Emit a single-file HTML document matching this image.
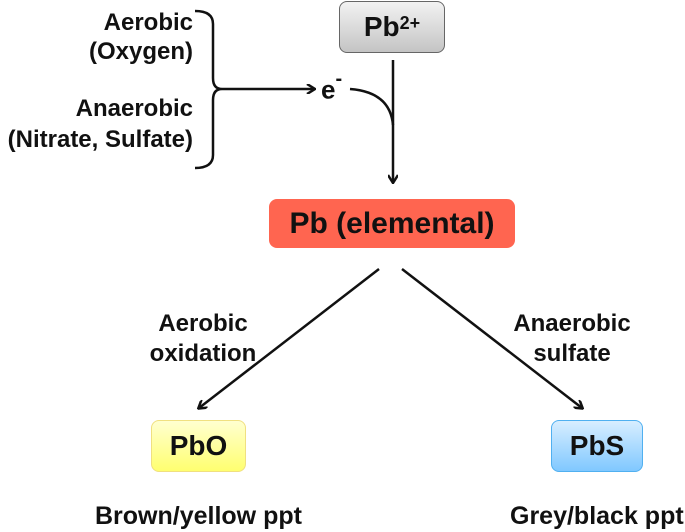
<!DOCTYPE html>
<html><head><meta charset="utf-8"><style>
html,body{margin:0;padding:0;background:#fff;}
body{width:685px;height:532px;position:relative;overflow:hidden;font-family:"Liberation Sans",Arial,sans-serif;font-weight:bold;color:#111;}
.t{position:absolute;white-space:nowrap;}
.box{position:absolute;border-radius:8px;display:flex;align-items:center;justify-content:center;box-sizing:border-box;}
</style></head><body>
<svg width="685" height="532" style="position:absolute;left:0;top:0">
<defs><marker id="a" markerWidth="10" markerHeight="10" refX="8" refY="5" orient="auto" markerUnits="userSpaceOnUse"><path d="M1,0 L9,5 L1,10" fill="none" stroke="#111" stroke-width="2.5"/></marker></defs>
<path d="M195,11 Q213,11 213,24 L213,78 Q213,89 222,89 Q213,89 213,100 L213,155 Q213,168 195,168" fill="none" stroke="#111" stroke-width="2.5"/>
<line x1="222" y1="89" x2="314" y2="89" stroke="#111" stroke-width="2.5" marker-end="url(#a)"/>
<line x1="393" y1="60" x2="393" y2="182" stroke="#111" stroke-width="2.5" marker-end="url(#a)"/>
<path d="M350,89 Q390,92 393,125" fill="none" stroke="#111" stroke-width="2.5"/>
<line x1="379" y1="269" x2="199" y2="408" stroke="#111" stroke-width="2.5" marker-end="url(#a)"/>
<line x1="402" y1="269" x2="582" y2="408" stroke="#111" stroke-width="2.5" marker-end="url(#a)"/>
</svg>
<div class="t" style="right:492px;top:9px;font-size:24px;text-align:right">Aerobic</div>
<div class="t" style="right:492px;top:38px;font-size:24px;text-align:right">(Oxygen)</div>
<div class="t" style="right:492px;top:95px;font-size:24px;text-align:right">Anaerobic</div>
<div class="t" style="right:492px;top:126px;font-size:24px;text-align:right">(Nitrate, Sulfate)</div>
<div class="t" style="left:321px;top:72px;font-size:26px">e<sup style="font-size:20px;position:relative;top:-4px">-</sup></div>
<div class="box" style="left:339px;top:1px;width:106px;height:52px;background:linear-gradient(#f2f2f2,#c4c4c4);border:1.5px solid #666;font-size:28px">Pb<sup style="font-size:18px;position:relative;top:-4px">2+</sup></div>
<div class="box" style="left:269px;top:199px;width:246px;height:49px;background:#ff6550;font-size:30px">Pb (elemental)</div>
<div class="t" style="left:133px;width:140px;top:309px;font-size:24px;line-height:30px;text-align:center">Aerobic<br>oxidation</div>
<div class="t" style="left:502px;width:140px;top:309px;font-size:24px;line-height:30px;text-align:center">Anaerobic<br>sulfate</div>
<div class="box" style="left:151px;top:420px;width:95px;height:52px;background:linear-gradient(#ffffd0,#ffff70);border:1.5px solid #f0e080;font-size:28px">PbO</div>
<div class="box" style="left:551px;top:420px;width:92px;height:52px;background:linear-gradient(#d8eeff,#80c8ff);border:1.5px solid #50b0f0;font-size:28px">PbS</div>
<div class="t" style="left:95px;top:502px;font-size:25px">Brown/yellow ppt</div>
<div class="t" style="left:510px;top:502px;font-size:25px">Grey/black ppt</div>
</body></html>
